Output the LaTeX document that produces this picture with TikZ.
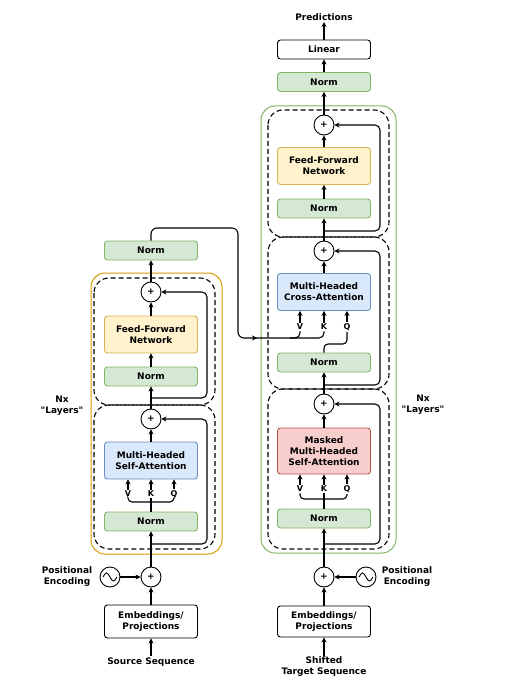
\documentclass[tikz,border=0pt]{standalone}
\usepackage{fontspec}
\setmainfont{DejaVu Sans}[Ligatures=TeXOff]
\usetikzlibrary{arrows.meta}
\definecolor{normfill}{HTML}{D5E8D4}
\definecolor{normline}{HTML}{82B366}
\definecolor{ffnfill}{HTML}{FFF2CC}
\definecolor{ffnline}{HTML}{D6B656}
\definecolor{mhafill}{HTML}{DAE8FC}
\definecolor{mhaline}{HTML}{6C8EBF}
\definecolor{maskfill}{HTML}{F8CECC}
\definecolor{maskline}{HTML}{B85450}
\definecolor{encline}{HTML}{D79B00}
\tikzset{
  blk/.style={draw, rounded corners=3pt, line width=0.9pt, minimum width=93pt,
    minimum height=19pt, inner sep=1pt, align=center,
    font=\bfseries\fontsize{9}{11}\selectfont},
  normbox/.style={blk, fill=normfill, draw=normline},
  ffnbox/.style={blk, fill=ffnfill, draw=ffnline, minimum height=37pt},
  mhabox/.style={blk, fill=mhafill, draw=mhaline, minimum height=37pt},
  maskbox/.style={blk, fill=maskfill, draw=maskline, minimum height=46pt},
  addc/.style={draw, circle, line width=0.9pt, minimum size=20pt, inner sep=0pt,
    font=\bfseries\fontsize{9}{9}\selectfont},
  sinec/.style={draw, circle, line width=0.9pt, minimum size=20pt, inner sep=0pt},
  txt/.style={align=center, inner sep=1pt, font=\bfseries\fontsize{9}{11}\selectfont},
  lbl/.style={inner sep=1pt, font=\bfseries\fontsize{8}{8}\selectfont},
  arr/.style={-{Stealth[length=5pt,width=5pt]}},
  layerbox/.style={dash pattern=on 5pt off 3pt, line width=1.1pt, rounded corners=15pt}
}
\begin{document}
\begin{tikzpicture}[x=1pt,y=-1pt,line width=1.1pt]
\useasboundingbox (0,0) rectangle (525,684);
\draw[encline, line width=1pt, rounded corners=14pt] (91,273) rectangle (222,554);
\draw[layerbox] (94,278) rectangle (215,405);
\draw[layerbox] (94,405) rectangle (215,549);
\draw[normline, line width=1pt, rounded corners=14pt] (261,106) rectangle (396,553);
\draw[layerbox] (268,110) rectangle (389,237);
\draw[layerbox] (268,237) rectangle (389,389);
\draw[layerbox] (268,389) rectangle (389,549);
% encoder
\node[normbox] (normTopL) at (151,250.5) {Norm};
\node[addc] (addFL) at (151,292) {+};
\node[ffnbox] (ffnL) at (151,334.5) {Feed-Forward\\Network};
\node[normbox] (normFL) at (151,376.5) {Norm};
\node[addc] (addAL) at (151,419) {+};
\node[mhabox] (mhsaL) at (151,460.5) {Multi-Headed\\Self-Attention};
\node[lbl] (vL) at (128,494) {V};
\node[lbl] (kL) at (151,494) {K};
\node[lbl] (qL) at (174,494) {Q};
\coordinate (jL) at (151,502);
\node[normbox] (normAL) at (151,521.5) {Norm};
\node[addc] (addPL) at (151,577) {+};
\node[sinec] (sineL) at (110,577) {};
\node[txt] (posL) at (67,577) {Positional\\Encoding};
\node[blk, minimum height=33pt] (embL) at (151,621.5) {Embeddings/\\Projections};
\node[txt] (srcL) at (151,662) {Source Sequence};
\node[txt] (nxL) at (62,406) {Nx\\"Layers"};
\coordinate (rAL) at (151,544);
\coordinate (rFL) at (151,398);
\draw[arr] (srcL) -- (embL);
\draw[arr] (embL) -- (addPL);
\draw[arr] (sineL) -- (addPL);
\draw[arr] (addPL) -- (normAL);
\draw (normAL) -- (kL);
\draw[rounded corners=4pt] (vL) |- (jL) -| (qL);
\draw[arr] (vL) -- (vL |- mhsaL.south);
\draw[arr] (kL) -- (mhsaL);
\draw[arr] (qL) -- (qL |- mhsaL.south);
\draw[arr] (mhsaL) -- (addAL);
\draw[arr] (addAL) -- (normFL);
\draw[arr] (normFL) -- (ffnL);
\draw[arr] (ffnL) -- (addFL);
\draw[arr] (addFL) -- (normTopL);
\draw[arr, rounded corners=5pt] (rAL) -| (207,419) -- (addAL);
\draw[arr, rounded corners=5pt] (rFL) -| (207,292) -- (addFL);
\draw[line width=0.9pt] ([xshift=-7pt]sineL.center) sin ++(3.5pt,4pt) cos ++(3.5pt,-4pt)
  sin ++(3.5pt,-4pt) cos ++(3.5pt,4pt);
% decoder
\node[txt] (predR) at (324,17) {Predictions};
\node[blk] (linR) at (324,49.5) {Linear};
\node[normbox] (normTopR) at (324,82) {Norm};
\node[addc] (addFR) at (324,125) {+};
\node[ffnbox] (ffnR) at (324,166) {Feed-Forward\\Network};
\node[normbox] (normFR) at (324,208.5) {Norm};
\node[addc] (addCR) at (324,251) {+};
\node[mhabox] (mhcaR) at (324,292) {Multi-Headed\\Cross-Attention};
\node[lbl] (vC) at (300,327) {V};
\node[lbl] (kC) at (324,327) {K};
\node[lbl] (qC) at (347,327) {Q};
\coordinate (jC) at (324,344);
\node[normbox] (normCR) at (324,362.5) {Norm};
\node[addc] (addMR) at (324,404) {+};
\node[maskbox] (maskR) at (324,451) {Masked\\Multi-Headed\\Self-Attention};
\node[lbl] (vM) at (300,489) {V};
\node[lbl] (kM) at (324,489) {K};
\node[lbl] (qM) at (347,489) {Q};
\coordinate (jM) at (324,499);
\node[normbox] (normMR) at (324,518.5) {Norm};
\node[addc] (addPR) at (324,577) {+};
\node[sinec] (sineR) at (366,577) {};
\node[txt] (posR) at (407,577) {Positional\\Encoding};
\node[blk, minimum height=31pt] (embR) at (324,621.5) {Embeddings/\\Projections};
\node[txt] (tgtR) at (324,667) {Shifted\\Target Sequence};
\node[txt] (nxR) at (423,405) {Nx\\"Layers"};
\coordinate (rMR) at (324,544);
\coordinate (rCR) at (324,385);
\coordinate (rFR) at (324,231);
\draw[arr] (tgtR) -- (embR);
\draw[arr] (embR) -- (addPR);
\draw[arr] (sineR) -- (addPR);
\draw[arr] (addPR) -- (normMR);
\draw (normMR) -- (kM);
\draw[rounded corners=4pt] (vM) |- (jM) -| (qM);
\draw[arr] (vM) -- (vM |- maskR.south);
\draw[arr] (kM) -- (maskR);
\draw[arr] (qM) -- (qM |- maskR.south);
\draw[arr] (maskR) -- (addMR);
\draw[arr] (addMR) -- (normCR);
\draw[rounded corners=4pt] (normCR) -- (jC) -| (qC);
\draw[arr] (vC) -- (vC |- mhcaR.south);
\draw[arr] (kC) -- (mhcaR);
\draw[arr] (qC) -- (qC |- mhcaR.south);
\draw[arr] (mhcaR) -- (addCR);
\draw[arr] (addCR) -- (normFR);
\draw[arr] (normFR) -- (ffnR);
\draw[arr] (ffnR) -- (addFR);
\draw[arr] (addFR) -- (normTopR);
\draw[arr] (normTopR) -- (linR);
\draw[arr] (linR) -- (predR);
\draw[arr, rounded corners=5pt] (rMR) -| (380,404) -- (addMR);
\draw[arr, rounded corners=5pt] (rCR) -| (380,251) -- (addCR);
\draw[arr, rounded corners=5pt] (rFR) -| (380,125) -- (addFR);
\draw[line width=0.9pt] ([xshift=-7pt]sineR.center) sin ++(3.5pt,4pt) cos ++(3.5pt,-4pt)
  sin ++(3.5pt,-4pt) cos ++(3.5pt,4pt);
% encoder output into cross-attention
\draw[arr, rounded corners=6pt] (normTopL) |- (238,228) -- (238,338) -- (257,338);
\draw[rounded corners=5pt] (255,338) -| (kC);
\draw[rounded corners=5pt] (290,338) -| (vC);
\end{tikzpicture}
\end{document}
